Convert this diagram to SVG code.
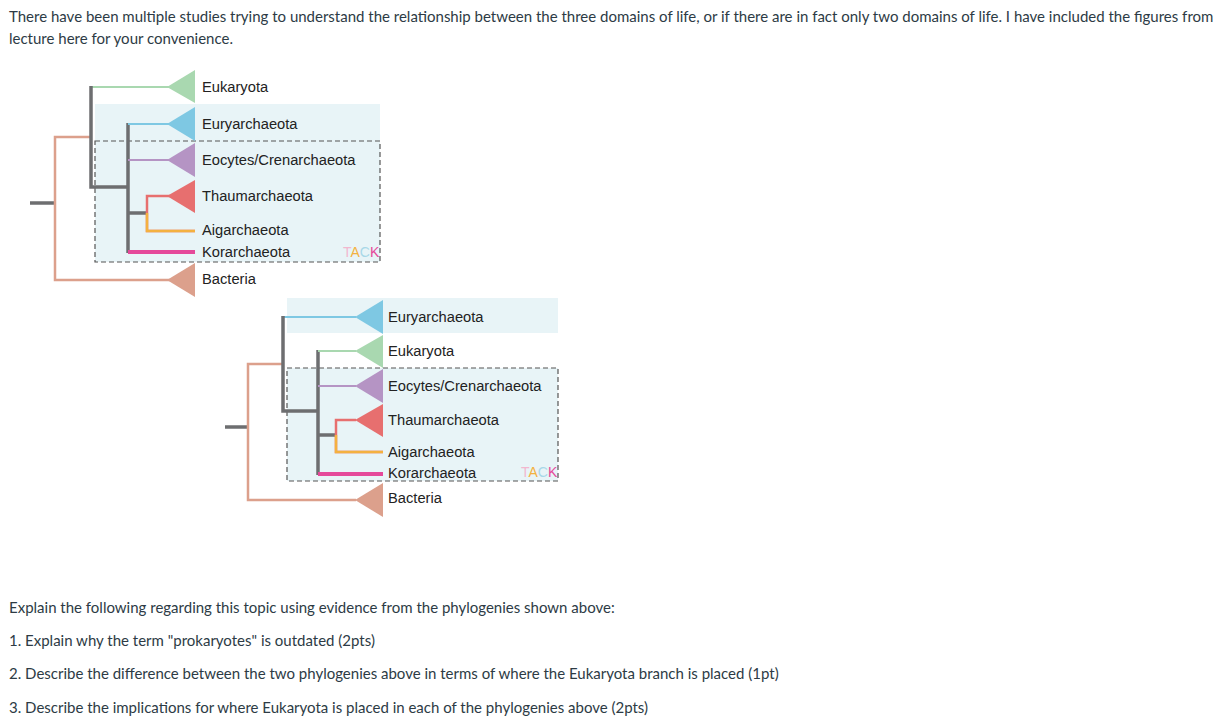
<svg xmlns="http://www.w3.org/2000/svg" width="1231" height="728" viewBox="0 0 1231 728">
<style>
.p{font-family:Lato,"Liberation Sans",sans-serif;font-size:15px;fill:#2d3b45}
.l{font-family:"Liberation Sans",Arial,sans-serif;font-size:14.7px;fill:#222}
.t{font-family:"Liberation Sans",Arial,sans-serif;font-size:14px}
.g{stroke:#6d6e70;stroke-width:3.5;fill:none}
.o{stroke:#dca08c;stroke-width:2.5;fill:none}
.sh{fill:#e8f4f7}
.d{fill:none;stroke:#555;stroke-width:1.2;stroke-dasharray:5,3}
</style>
<rect width="1231" height="728" fill="#fff"/>
<text class="p" x="9" y="22">There have been multiple studies trying to understand the relationship between the three domains of life, or if there are in fact only two domains of life. I have included the figures from</text>
<text class="p" x="9" y="44">lecture here for your convenience.</text>

<g id="fig1">
<rect class="sh" x="95" y="104" width="285" height="158"/>
<rect class="d" x="95" y="141" width="285" height="121"/>
<g id="connectors1">
<path class="g" d="M30 203H55"/>
<path class="o" d="M92 137H55V280H170"/>
<path d="M91 87H170" stroke="#a9d8b0" stroke-width="2"/>
<path class="g" d="M91 86V187H128"/>
<path class="g" d="M128 123V253"/>
<path d="M128 124H170" stroke="#7ec8e3" stroke-width="2"/>
<path d="M128 160H170" stroke="#b594c4" stroke-width="2"/>
<path class="g" d="M128 213H147"/>
<path d="M170 196H147V231H195" stroke-width="2.5" fill="none" stroke="#e76f6f"/>
<path d="M147 213V231H195" stroke-width="2.5" fill="none" stroke="#f4b140"/>
<path d="M128 252H195" stroke="#e5499a" stroke-width="4"/>
</g>
<g id="n1-euk"><polygon points="167,87 195,70 195,103" fill="#a9d8b0"/><text class="l" x="202" y="92">Eukaryota</text></g>
<g id="n1-eury"><polygon points="167,124 195,107 195,141" fill="#7ec8e3"/><text class="l" x="202" y="129">Euryarchaeota</text></g>
<g id="n1-eoc"><polygon points="167,160 195,143 195,177" fill="#b594c4"/><text class="l" x="202" y="165">Eocytes/Crenarchaeota</text></g>
<g id="n1-thau"><polygon points="167,196 195,180 195,213" fill="#e76f6f"/><text class="l" x="202" y="201">Thaumarchaeota</text></g>
<g id="n1-aig"><text class="l" x="202" y="235">Aigarchaeota</text></g>
<g id="n1-kor"><text class="l" x="202" y="257">Korarchaeota</text></g>
<g id="n1-bac"><polygon points="167,280 195,263 195,297" fill="#dca08c"/><text class="l" x="202" y="284">Bacteria</text></g>
<text class="t" x="343" y="257"><tspan fill="#f2b7cf">T</tspan><tspan fill="#f4b140">A</tspan><tspan fill="#a9d8e8">C</tspan><tspan fill="#e5499a">K</tspan></text>
</g>

<g id="fig2">
<rect class="sh" x="287" y="298" width="271" height="35"/>
<rect class="sh" x="287" y="368" width="271" height="113"/>
<rect class="d" x="287" y="368" width="271" height="113"/>
<g id="connectors2">
<path class="g" d="M225 427H248"/>
<path class="o" d="M284 364H248V500H356"/>
<path d="M283 317H356" stroke="#7ec8e3" stroke-width="2"/>
<path class="g" d="M283 316V411H318"/>
<path class="g" d="M318 350V475"/>
<path d="M318 351H356" stroke="#a9d8b0" stroke-width="2"/>
<path d="M318 386H356" stroke="#b594c4" stroke-width="2"/>
<path class="g" d="M318 435H336"/>
<path d="M356 420H336V452H383" stroke-width="2.5" fill="none" stroke="#e76f6f"/>
<path d="M336 435V452H383" stroke-width="2.5" fill="none" stroke="#f4b140"/>
<path d="M318 474H383" stroke="#e5499a" stroke-width="4"/>
</g>
<g id="n2-eury"><polygon points="355,317 383,300 383,334" fill="#7ec8e3"/><text class="l" x="388" y="322">Euryarchaeota</text></g>
<g id="n2-euk"><polygon points="355,351 383,335 383,368" fill="#a9d8b0"/><text class="l" x="388" y="356">Eukaryota</text></g>
<g id="n2-eoc"><polygon points="355,386 383,369 383,403" fill="#b594c4"/><text class="l" x="388" y="391">Eocytes/Crenarchaeota</text></g>
<g id="n2-thau"><polygon points="355,420 383,404 383,437" fill="#e76f6f"/><text class="l" x="388" y="425">Thaumarchaeota</text></g>
<g id="n2-aig"><text class="l" x="388" y="457">Aigarchaeota</text></g>
<g id="n2-kor"><text class="l" x="388" y="478">Korarchaeota</text></g>
<g id="n2-bac"><polygon points="355,500 383,483 383,517" fill="#dca08c"/><text class="l" x="388" y="503">Bacteria</text></g>
<text class="t" x="521" y="477"><tspan fill="#f2b7cf">T</tspan><tspan fill="#f4b140">A</tspan><tspan fill="#a9d8e8">C</tspan><tspan fill="#e5499a">K</tspan></text>
</g>

<text class="p" x="9" y="613">Explain the following regarding this topic using evidence from the phylogenies shown above:</text>
<text class="p" x="9" y="646">1. Explain why the term "prokaryotes" is outdated (2pts)</text>
<text class="p" x="9" y="679">2. Describe the difference between the two phylogenies above in terms of where the Eukaryota branch is placed (1pt)</text>
<text class="p" x="9" y="713">3. Describe the implications for where Eukaryota is placed in each of the phylogenies above (2pts)</text>
</svg>
